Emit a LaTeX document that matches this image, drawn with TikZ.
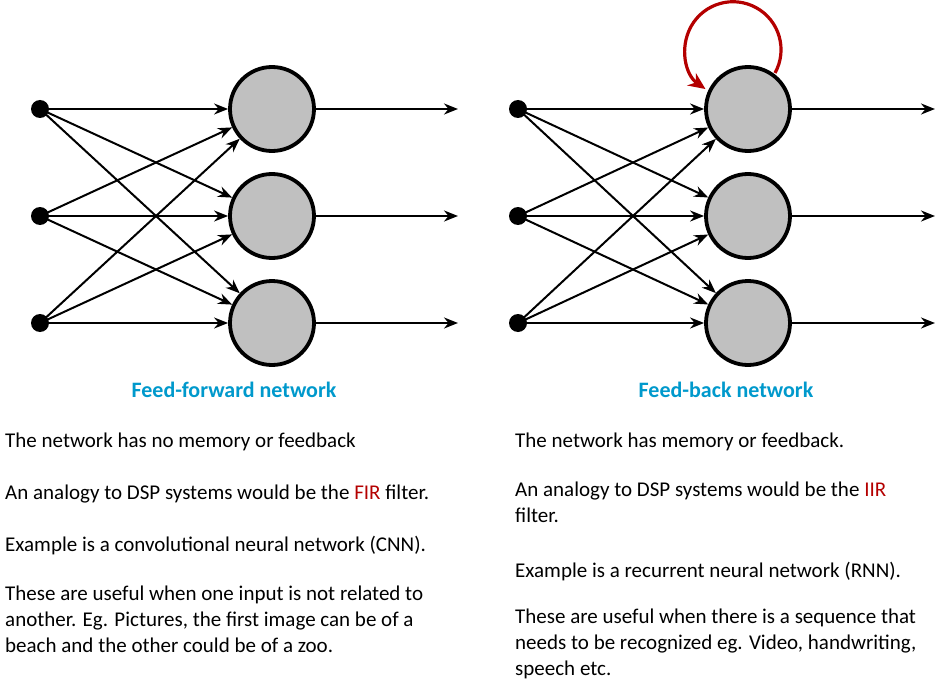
\documentclass[tikz,border=0pt]{standalone}
\usepackage{fontspec}
\setmainfont{Carlito}
\usetikzlibrary{arrows.meta}
\definecolor{ttl}{RGB}{0,153,204}
\definecolor{dred}{RGB}{180,0,0}
\definecolor{nfill}{RGB}{192,192,192}
\begin{document}
\begin{tikzpicture}[x=1pt,y=-1pt,
  inp/.style={circle,fill=black,inner sep=0,minimum size=18pt},
  neu/.style={circle,draw=black,line width=3.8pt,fill=nfill,inner sep=0,minimum size=84pt},
  con/.style={line width=2pt,-{Stealth[length=14pt,width=11pt]}},
  ttl/.style={font=\fontsize{22}{26}\selectfont\bfseries,text=ttl},
  txt/.style={anchor=west,font=\fontsize{21}{26}\selectfont,align=left,inner sep=0}]
\useasboundingbox (0,0) rectangle (937,682);
\foreach \p/\xi/\xn/\xo in {L/40/272/458, R/518/748/935}{
  \foreach \i/\y in {1/109,2/216,3/323}{
    \node[inp] (\p i\i) at (\xi,\y) {};
    \node[neu] (\p n\i) at (\xn,\y) {};
    \coordinate (\p o\i) at (\xo,\y);
  }
  \foreach \i in {1,2,3}{
    \foreach \j in {1,2,3}{ \draw[con] (\p i\i.center) -- (\p n\j); }
    \draw[con] (\p n\i) -- (\p o\i);
  }
}
\draw[dred,line width=3.2pt,-{Stealth[length=17pt,width=15pt]}] (775,73) arc[start angle=29,end angle=-235,radius=48];
\node[ttl] (t1) at (234,390) {Feed-forward network};
\node[ttl] (t2) at (726,390) {Feed-back network};
\node[txt] (a1) at (5,442) {The network has no memory or feedback};
\node[txt] (a2) at (5,494) {An analogy to DSP systems would be the \textcolor{dred}{FIR} filter.};
\node[txt] (a3) at (5,546) {Example is a convolutional neural network (CNN).};
\node[txt,anchor=north west] (a4) at (5,586) {These are useful when one input is not related to\\another. Eg. Pictures, the first image can be of a\\beach and the other could be of a zoo.};
\node[txt] (b1) at (515,442) {The network has memory or feedback.};
\node[txt,anchor=north west] (b2) at (515,482) {An analogy to DSP systems would be the \textcolor{dred}{IIR}\\filter.};
\node[txt] (b3) at (515,572) {Example is a recurrent neural network (RNN).};
\node[txt,anchor=north west] (b4) at (515,609) {These are useful when there is a sequence that\\needs to be recognized eg. Video, handwriting,\\speech etc.};
\end{tikzpicture}
\end{document}
